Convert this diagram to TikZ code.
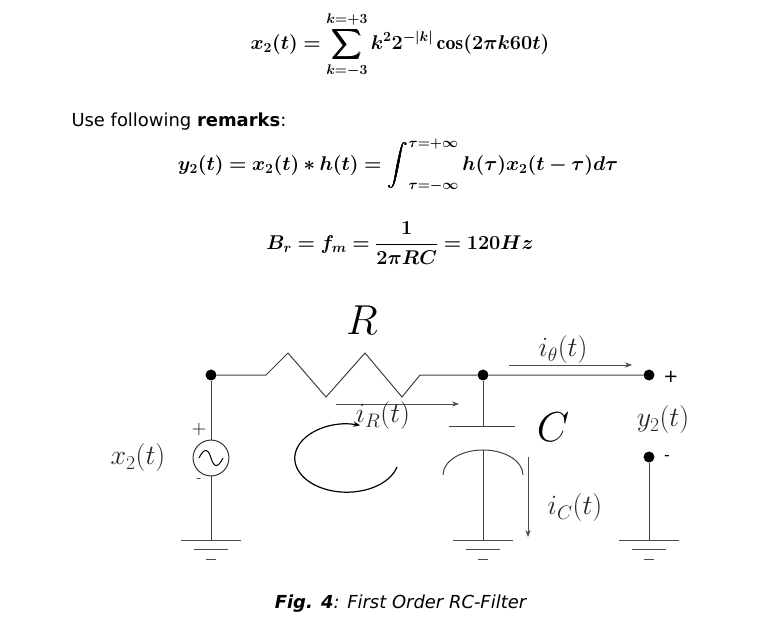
\documentclass[tikz,border=0pt]{standalone}
\usepackage{fix-cm}
\usepackage{amsmath,bm}
\usepackage{fontspec}
\newfontfamily\verd{DejaVu Sans}
\usetikzlibrary{arrows.meta}
\begin{document}
\begin{tikzpicture}[x=1bp,y=-1bp,
 wire/.style={draw=black!75,line width=1pt},
 dot/.style={circle,fill=black,inner sep=0pt,minimum size=11pt},
 lbl/.style={font=\fontsize{28}{30}\selectfont,text=black!85},
 eq/.style={font=\fontsize{20}{24}\selectfont}]
\useasboundingbox (0,0) rectangle (780,635);
% equations
\node[eq] (e1) at (400,45) {$\displaystyle\bm{x_2(t) = \sum_{k=-3}^{k=+3} k^2 2^{-|k|}\cos(2\pi k60t)}$};
\node[anchor=west,font=\verd\fontsize{18}{20}\selectfont] (rm) at (68,122) {Use following \textbf{remarks}:};
\node[eq] (e2) at (398,165) {$\displaystyle\bm{y_2(t) = x_2(t) * h(t) = \int_{\tau=-\infty}^{\tau=+\infty} h(\tau) x_2(t-\tau)d\tau}$};
\node[eq] (e3) at (400,243) {$\displaystyle\bm{B_r = f_m = \frac{1}{2\pi RC} = 120Hz}$};
% circuit
\node[dot] (n1) at (211,375) {};
\node[dot] (n2) at (483,375) {};
\node[dot] (n3) at (649,375) {};
\node[dot] (n4) at (649,457) {};
\node[circle,draw=black!80,line width=1pt,minimum size=36pt,inner sep=0pt] (src) at (211,458) {};
\draw[line width=1pt] (199,458) .. controls (204,448) and (208,448) .. (211,458) .. controls (214,468) and (218,468) .. (223,458);
\draw[wire] (n1) -- (n1|-src.north);
\draw[wire] (src.south) -- (211,540) coordinate (g1);
\draw[wire] (n1) -- (266,375) -- (288,353) -- (326,397) -- (365,353) -- (402,397) -- (420,375) -- (n2) -- (n3);
\draw[wire] (n2) -- (483,426) coordinate (cp);
\draw[wire] (449,426) -- (515,426);
\draw[wire] (443,475) arc[start angle=180,end angle=360,x radius=40,y radius=25];
\draw[wire] (483,450) -- (483,540) coordinate (g2);
\draw[wire] (n4) -- (649,540) coordinate (g3);
\foreach \g in {g1,g2,g3}{
 \draw[black!70,line width=1pt] ([xshift=-30]\g) -- ([xshift=30]\g);
 \draw[black!70,line width=1pt] ([xshift=-17,yshift=-10]\g) -- ([xshift=17,yshift=-10]\g);
 \draw[black!70,line width=1pt] ([xshift=-5,yshift=-20]\g) -- ([xshift=5,yshift=-20]\g);}
% arrows
\draw[black!70,line width=0.8pt,-{Stealth[length=7pt]}] (336,404) -- (459,404);
\draw[black!70,line width=0.8pt,-{Stealth[length=7pt]}] (509,365) -- (632,365);
\draw[black!70,line width=0.8pt,-{Stealth[length=7pt]}] (528,457) -- (528,537);
\draw[line width=1.2pt,-{Stealth[length=7pt]}] (397,467) arc[start angle=15,end angle=285,x radius=52,y radius=34];
% labels
\node[font=\fontsize{42}{44}\selectfont] (R) at (362,320) {$R$};
\node[font=\fontsize{42}{44}\selectfont] (C) at (553,427) {$C$};
\node[lbl] (iR) at (383,416) {$i_R(t)$};
\node[lbl] (io) at (563,350) {$i_\theta(t)$};
\node[lbl] (ic) at (575,508) {$i_C(t)$};
\node[lbl] (y2) at (663,420) {$y_2(t)$};
\node[lbl] (x2) at (138,458) {$x_2(t)$};
\node[font=\fontsize{20}{20}\selectfont] (p1) at (199,430) {$+$};
\node[font=\fontsize{16}{16}\selectfont] (m1) at (199,481) {-};
\node[font=\verd\fontsize{18}{18}\selectfont] (p2) at (671,377) {+};
\node[font=\verd\fontsize{16}{16}\selectfont] (m2) at (667,458) {-};
\node[font=\verd\fontsize{18}{20}\selectfont] (cap) at (401,604) {\textbf{\textit{Fig. 4}}\textit{: First Order RC-Filter}};
\end{tikzpicture}
\end{document}
